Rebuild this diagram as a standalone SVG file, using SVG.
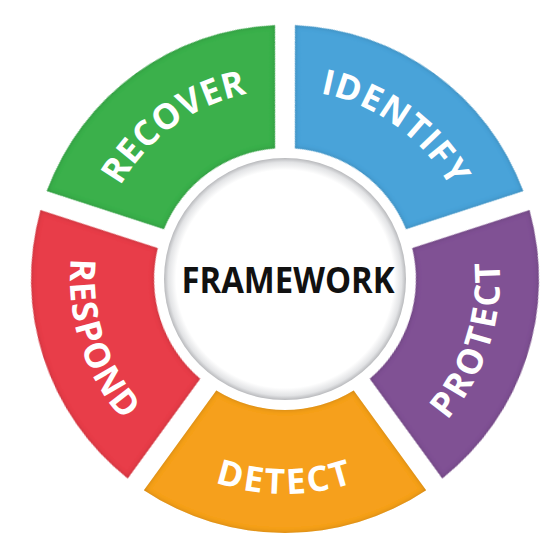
<svg xmlns="http://www.w3.org/2000/svg" xmlns:xlink="http://www.w3.org/1999/xlink" width="560" height="549" viewBox="0 0 560 549">
  <style>
    .seg { filter: url(#inset); }
    .lbl { font-family: "Open Sans", "Noto Sans", "Liberation Sans", sans-serif; font-weight: 700; font-size: 35px; fill: #ffffff; }
    .center { font-family: "Open Sans", "Noto Sans", "Liberation Sans", sans-serif; font-weight: 700; font-size: 36px; fill: #111111; }
  </style>
  <defs>
    <filter id="inset" x="-10%" y="-10%" width="120%" height="120%">
      <feGaussianBlur in="SourceAlpha" stdDeviation="2.5" result="b"/>
      <feComposite in="SourceAlpha" in2="b" operator="out" result="edge"/>
      <feFlood flood-color="#000000" flood-opacity="0.4"/>
      <feComposite in2="edge" operator="in" result="shadow"/>
      <feMerge>
        <feMergeNode in="SourceGraphic"/>
        <feMergeNode in="shadow"/>
      </feMerge>
    </filter>
    <path id="segShape" d="M143.89,67.80 A254,254 0 0 1 426.11,67.80 L353.69,167.45 A131,131 0 0 0 216.31,167.45 Z"/>
    <path id="pIdentify" d="M208.13,106.34 A189,189 0 0 1 472.96,298.76" fill="none"/>
    <path id="pRecover" d="M97.04,298.76 A189,189 0 0 1 361.87,106.34" fill="none"/>
    <path id="pProtect" d="M329.70,489.30 A215,215 0 0 0 444.78,135.14" fill="none"/>
    <path id="pDetect" d="M98.80,386.5 A215,215 0 0 0 471.20,386.5" fill="none"/>
    <path id="pRespond" d="M125.22,135.14 A215,215 0 0 0 240.30,489.30" fill="none"/>
    <radialGradient id="hub" cx="285" cy="279" r="121" gradientUnits="userSpaceOnUse">
      <stop offset="0" stop-color="#ffffff"/>
      <stop offset="0.9" stop-color="#ffffff"/>
      <stop offset="0.965" stop-color="#e2e3e5"/>
      <stop offset="1" stop-color="#b8b9bc"/>
    </radialGradient>
  </defs>

  <rect width="560" height="549" fill="#ffffff"/>

  <g id="connectors"></g>

  <g id="identify">
    <use class="seg" href="#segShape" transform="rotate(36 285 279)" fill="#48a3d9"/>
    <text class="lbl" letter-spacing="1"><textPath href="#pIdentify" startOffset="50%" text-anchor="middle">IDENTIFY</textPath></text>
  </g>

  <g id="protect">
    <use class="seg" href="#segShape" transform="rotate(108 285 279)" fill="#805194"/>
    <text class="lbl" letter-spacing="2.5"><textPath href="#pProtect" startOffset="50%" text-anchor="middle">PROTECT</textPath></text>
  </g>

  <g id="detect">
    <use class="seg" href="#segShape" transform="rotate(180 285 279)" fill="#f6a01f"/>
    <text class="lbl" letter-spacing="2.5"><textPath href="#pDetect" startOffset="50%" text-anchor="middle">DETECT</textPath></text>
  </g>

  <g id="respond">
    <use class="seg" href="#segShape" transform="rotate(252 285 279)" fill="#e83e48"/>
    <text class="lbl" letter-spacing="1.5"><textPath href="#pRespond" startOffset="50%" text-anchor="middle">RESPOND</textPath></text>
  </g>

  <g id="recover">
    <use class="seg" href="#segShape" transform="rotate(-36 285 279)" fill="#3ab04b"/>
    <text class="lbl" letter-spacing="0.5"><textPath href="#pRecover" startOffset="50%" text-anchor="middle">RECOVER</textPath></text>
  </g>

  <g id="framework">
    <circle cx="285" cy="279" r="121" fill="url(#hub)"/>
    <text class="center" x="288" y="293" text-anchor="middle" textLength="213" lengthAdjust="spacingAndGlyphs">FRAMEWORK</text>
  </g>
</svg>
